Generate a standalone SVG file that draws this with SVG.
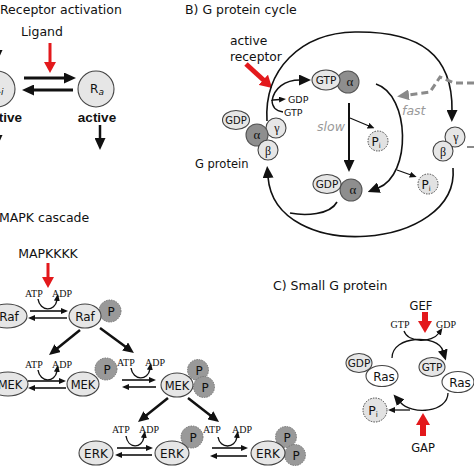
<svg xmlns="http://www.w3.org/2000/svg" width="474" height="474" viewBox="0 0 474 474">
<style>
.h{font-family:"DejaVu Sans",sans-serif;font-size:12.5px;fill:#111}
.t{font-family:"DejaVu Sans",sans-serif;fill:#111}
.s{font-family:"Liberation Serif",serif;fill:#111}
.b{font-family:"Liberation Sans",sans-serif;font-weight:bold;font-size:13.5px;fill:#111}
.g{font-family:"DejaVu Sans",sans-serif;font-style:italic;font-size:12.5px;fill:#999}
.ln{fill:none;stroke:#111}
.lt{fill:#e6e6e6;stroke:#444;stroke-width:1.1}
.wt{fill:#fff;stroke:#444;stroke-width:1.1}
.dk{fill:#8e8e8e;stroke:#555;stroke-width:1.1}
.p{fill:#999;stroke:#777;stroke-width:1;stroke-dasharray:1.5 1}
.pi{fill:#e2e2e2;stroke:#444;stroke-width:1;stroke-dasharray:1.5 1.2}
.red{fill:none;stroke:#e3191c}
</style>
<defs>
<marker id="aL" markerUnits="userSpaceOnUse" markerWidth="12" markerHeight="11" viewBox="0 0 12 11" refX="1" refY="5.5" orient="auto"><path d="M0,0L12,5.5L0,11z" fill="#111"/></marker>
<marker id="aM" markerUnits="userSpaceOnUse" markerWidth="11" markerHeight="10" viewBox="0 0 11 10" refX="1" refY="5" orient="auto"><path d="M0,0L11,5L0,10z" fill="#111"/></marker>
<marker id="aS" markerUnits="userSpaceOnUse" markerWidth="7" markerHeight="6" viewBox="0 0 7 6" refX="1" refY="3" orient="auto"><path d="M0,0L7,3L0,6z" fill="#111"/></marker>
<marker id="aR" markerUnits="userSpaceOnUse" markerWidth="11" markerHeight="12" viewBox="0 0 11 12" refX="1" refY="6" orient="auto"><path d="M0,0L11,6L0,12z" fill="#e3191c"/></marker>
<marker id="aR3" markerUnits="userSpaceOnUse" markerWidth="12" markerHeight="14" viewBox="0 0 12 14" refX="1" refY="7" orient="auto"><path d="M0,0L12,7L0,14z" fill="#e3191c"/></marker>
<marker id="aG" markerUnits="userSpaceOnUse" markerWidth="12" markerHeight="11" viewBox="0 0 12 11" refX="1" refY="5.5" orient="auto"><path d="M0,0L12,5.5L0,11z" fill="#8a8a8a"/></marker>
</defs>

<!-- headings -->
<g id="headings">
<text class="h" x="0" y="14">Receptor activation</text>
<text class="h" x="185" y="14">B) G protein cycle</text>
<text class="h" x="-1" y="222">MAPK cascade</text>
<text class="h" x="273" y="290">C) Small G protein</text>
</g>

<!-- connectors -->
<g id="connectors">
<!-- A -->
<line class="red" x1="50" y1="43" x2="50" y2="63" stroke-width="3" marker-end="url(#aR)"/>
<line class="ln" x1="24" y1="78" x2="65" y2="78" stroke-width="3" marker-end="url(#aL)"/>
<line class="ln" x1="73" y1="90" x2="33" y2="90" stroke-width="3" marker-end="url(#aL)"/>
<line class="ln" x1="100" y1="125" x2="100" y2="139" stroke-width="2.5" marker-end="url(#aL)"/>
<line class="ln" x1="-3" y1="44" x2="-3" y2="51" stroke-width="2.5" marker-end="url(#aL)"/>
<line class="ln" x1="-3" y1="125" x2="-3" y2="136" stroke-width="2.5" marker-end="url(#aL)"/>
<!-- B -->
<line class="red" x1="246" y1="64" x2="264" y2="80.5" stroke-width="5" marker-end="url(#aR3)"/>
<path class="ln" stroke-width="1.6" d="M267,121 C264,70 300,33 355,32 C420,31 453,55 452,111" marker-end="url(#aL)"/>
<path class="ln" stroke-width="1.6" d="M453,168 C460,250 275,265 268,177" marker-end="url(#aL)"/>
<path class="ln" stroke-width="1.6" d="M337,202 C330,215 305,216 290,213"/>
<path class="ln" stroke-width="1.6" d="M272,101 C274,88 285,80 300,80" marker-end="url(#aL)"/>
<path class="ln" stroke-width="1.3" d="M283,112 C276,111 272,107 272,100"/>
<line class="ln" x1="273" y1="100" x2="280" y2="99.5" stroke-width="1.3" marker-end="url(#aS)"/>
<line class="ln" x1="349" y1="103" x2="349" y2="161" stroke-width="2" marker-end="url(#aL)"/>
<line class="ln" x1="350" y1="118" x2="369" y2="126" stroke-width="1.3" marker-end="url(#aS)"/>
<path class="ln" stroke-width="1.6" d="M376,84 C410,95 412,175 378,188" marker-end="url(#aL)"/>
<line class="ln" x1="397" y1="170" x2="411" y2="175" stroke-width="1.3" marker-end="url(#aS)"/>
<path fill="none" stroke="#8a8a8a" stroke-width="3" stroke-dasharray="7 4" d="M474,83 L454,83 L440,77 L430,92 L408,95" marker-end="url(#aG)"/>
<line x1="467" y1="147" x2="474" y2="147" stroke="#8a8a8a" stroke-width="2"/>
<!-- MAPK -->
<line class="red" x1="48" y1="263" x2="48" y2="278" stroke-width="3" marker-end="url(#aR)"/>
<path class="ln" stroke-width="1.4" d="M38,299 C40,312 55,312 57,300" marker-end="url(#aS)"/>
<line class="ln" x1="30" y1="311" x2="62" y2="311" stroke-width="1.6" marker-end="url(#aS)"/>
<line class="ln" x1="67" y1="318" x2="34" y2="318" stroke-width="1.6" marker-end="url(#aS)"/>
<line class="ln" x1="80" y1="330" x2="56.8" y2="348.7" stroke-width="2.5" marker-end="url(#aM)"/>
<line class="ln" x1="100" y1="328" x2="125.9" y2="347.1" stroke-width="2.5" marker-end="url(#aM)"/>
<path class="ln" stroke-width="1.4" d="M38,370 C40,383 55,383 57,371" marker-end="url(#aS)"/>
<line class="ln" x1="28" y1="381" x2="60" y2="381" stroke-width="1.6" marker-end="url(#aS)"/>
<line class="ln" x1="66" y1="388" x2="34" y2="388" stroke-width="1.6" marker-end="url(#aS)"/>
<path class="ln" stroke-width="1.4" d="M131,368 C133,381 148,381 150,369" marker-end="url(#aS)"/>
<line class="ln" x1="122" y1="380" x2="150" y2="380" stroke-width="1.6" marker-end="url(#aS)"/>
<line class="ln" x1="156" y1="387" x2="128" y2="387" stroke-width="1.6" marker-end="url(#aS)"/>
<line class="ln" x1="168" y1="398" x2="145.8" y2="415.8" stroke-width="2.5" marker-end="url(#aM)"/>
<line class="ln" x1="188" y1="398" x2="211.1" y2="415.9" stroke-width="2.5" marker-end="url(#aM)"/>
<path class="ln" stroke-width="1.4" d="M126,436 C128,449 142,449 144,437" marker-end="url(#aS)"/>
<line class="ln" x1="117" y1="448" x2="147" y2="448" stroke-width="1.6" marker-end="url(#aS)"/>
<line class="ln" x1="152" y1="455" x2="121" y2="455" stroke-width="1.6" marker-end="url(#aS)"/>
<path class="ln" stroke-width="1.4" d="M218,437 C220,449 235,449 237,437" marker-end="url(#aS)"/>
<line class="ln" x1="212" y1="448" x2="242" y2="448" stroke-width="1.6" marker-end="url(#aS)"/>
<line class="ln" x1="247" y1="456" x2="216" y2="456" stroke-width="1.6" marker-end="url(#aS)"/>
<!-- C -->
<line class="red" x1="425" y1="312" x2="425" y2="322" stroke-width="6" marker-end="url(#aR3)"/>
<line class="red" x1="423" y1="436" x2="423" y2="424" stroke-width="6" marker-end="url(#aR3)"/>
<path class="ln" stroke-width="1.3" d="M404,331 C408,343 432,343 439,333" marker-end="url(#aS)"/>
<path class="ln" stroke-width="1.3" d="M392,358 C392,335 438,334 443,351" marker-end="url(#aM)"/>
<path class="ln" stroke-width="1.3" d="M448,393 C448,412 412,416 400,402" marker-end="url(#aM)"/>
<line class="ln" x1="410" y1="410" x2="394" y2="410" stroke-width="1.3" marker-end="url(#aS)"/>
</g>

<!-- A nodes -->
<g id="ligand"><text class="t" x="42" y="36" font-size="12.5" text-anchor="middle">Ligand</text></g>
<g id="Ri">
<circle class="lt" cx="-3" cy="89" r="18"/>
<text class="t" x="-2" y="93" font-size="12" text-anchor="middle">R<tspan font-size="9" font-style="italic" dy="2">i</tspan></text>
<text class="b" x="22" y="122" text-anchor="end">inactive</text>
</g>
<g id="Ra">
<circle class="lt" cx="96" cy="89" r="18"/>
<text class="t" x="97" y="93" font-size="12" text-anchor="middle">R<tspan font-size="9" font-style="italic" dy="2">a</tspan></text>
<text class="b" x="97" y="122" text-anchor="middle">active</text>
</g>

<!-- B nodes -->
<g id="active-receptor">
<text class="t" x="230" y="45" font-size="12.3">active</text>
<text class="t" x="230" y="61" font-size="12.3">receptor</text>
</g>
<g id="gdp-gtp-labels">
<text class="t" x="288" y="103" font-size="9.5">GDP</text>
<text class="t" x="284" y="116" font-size="9.5">GTP</text>
</g>
<g id="g-protein">
<circle class="lt" cx="276" cy="128" r="10"/>
<circle class="dk" cx="257" cy="135" r="11"/>
<circle class="lt" cx="268" cy="150" r="10"/>
<ellipse class="lt" cx="236" cy="120" rx="13.5" ry="9.5"/>
<text class="t" x="236" y="124" font-size="10" text-anchor="middle">GDP</text>
<text class="s" x="257" y="139" font-size="13" text-anchor="middle">α</text>
<text class="s" x="277" y="132" font-size="12" text-anchor="middle">γ</text>
<text class="s" x="268" y="155" font-size="12" text-anchor="middle">β</text>
<text class="t" x="195" y="168" font-size="11.5">G protein</text>
</g>
<g id="gtp-alpha">
<circle class="dk" cx="348" cy="82" r="11"/>
<ellipse class="lt" cx="326" cy="80" rx="14" ry="10"/>
<text class="t" x="326" y="84" font-size="10.5" text-anchor="middle">GTP</text>
<text class="s" x="350" y="86" font-size="13" text-anchor="middle">α</text>
</g>
<g id="gdp-alpha">
<circle class="dk" cx="351" cy="190" r="11"/>
<ellipse class="lt" cx="327" cy="184" rx="14" ry="9.5"/>
<text class="t" x="327" y="188" font-size="10.5" text-anchor="middle">GDP</text>
<text class="s" x="353" y="194" font-size="13" text-anchor="middle">α</text>
</g>
<g id="pi1">
<circle class="pi" cx="378" cy="141" r="10"/>
<text class="t" x="376" y="146" font-size="12" text-anchor="middle">P<tspan font-size="7" dy="2">i</tspan></text>
</g>
<g id="pi2">
<circle class="pi" cx="428" cy="184" r="10"/>
<text class="t" x="426" y="189" font-size="12" text-anchor="middle">P<tspan font-size="7" dy="2">i</tspan></text>
</g>
<g id="slow-fast">
<text class="g" x="317" y="131">slow</text>
<text class="g" x="402" y="115">fast</text>
</g>
<g id="beta-gamma">
<circle class="lt" cx="455" cy="137" r="10"/>
<circle class="lt" cx="443" cy="151" r="10"/>
<text class="s" x="456" y="141" font-size="12" text-anchor="middle">γ</text>
<text class="s" x="443" y="156" font-size="12" text-anchor="middle">β</text>
</g>

<!-- MAPK nodes -->
<g id="mapkkkk"><text class="t" x="48" y="258" font-size="12.5" text-anchor="middle">MAPKKKK</text></g>
<g id="atp-adp">
<text class="s" font-size="10" x="25" y="297">ATP</text><text class="s" font-size="10" x="52" y="297">ADP</text>
<text class="s" font-size="10" x="25" y="368">ATP</text><text class="s" font-size="10" x="52" y="368">ADP</text>
<text class="s" font-size="10" x="117" y="366">ATP</text><text class="s" font-size="10" x="145" y="366">ADP</text>
<text class="s" font-size="10" x="112" y="433">ATP</text><text class="s" font-size="10" x="139" y="433">ADP</text>
<text class="s" font-size="10" x="203" y="433">ATP</text><text class="s" font-size="10" x="232" y="433">ADP</text>
</g>
<g id="raf">
<ellipse class="lt" cx="7" cy="316" rx="20" ry="12"/>
<text class="t" x="9" y="320.5" font-size="12" text-anchor="middle">Raf</text>
</g>
<g id="raf-p">
<circle class="p" cx="110" cy="311" r="11"/>
<text class="t" x="111" y="315.5" font-size="12" text-anchor="middle">P</text>
<ellipse class="lt" cx="85" cy="316" rx="16" ry="12"/>
<text class="t" x="85" y="320.5" font-size="12" text-anchor="middle">Raf</text>
</g>
<g id="mek">
<ellipse class="lt" cx="8" cy="384" rx="20" ry="12"/>
<text class="t" x="10" y="388.5" font-size="11.5" text-anchor="middle">MEK</text>
</g>
<g id="mek-p">
<circle class="p" cx="106" cy="369" r="11"/>
<text class="t" x="107" y="373.5" font-size="12" text-anchor="middle">P</text>
<ellipse class="lt" cx="83" cy="384" rx="16" ry="12"/>
<text class="t" x="83" y="388.5" font-size="11.5" text-anchor="middle">MEK</text>
</g>
<g id="mek-pp">
<circle class="p" cx="198" cy="370" r="10.5"/>
<text class="t" x="199" y="374.5" font-size="12" text-anchor="middle">P</text>
<circle class="p" cx="204" cy="387" r="10.5"/>
<text class="t" x="205" y="391.5" font-size="12" text-anchor="middle">P</text>
<ellipse class="lt" cx="177" cy="385" rx="16" ry="12"/>
<text class="t" x="177" y="389.5" font-size="11.5" text-anchor="middle">MEK</text>
</g>
<g id="erk">
<ellipse class="lt" cx="96" cy="453" rx="17" ry="12"/>
<text class="t" x="96" y="457.5" font-size="12" text-anchor="middle">ERK</text>
</g>
<g id="erk-p">
<circle class="p" cx="192" cy="437" r="11"/>
<text class="t" x="193" y="441.5" font-size="12" text-anchor="middle">P</text>
<ellipse class="lt" cx="172" cy="453" rx="17" ry="12"/>
<text class="t" x="172" y="457.5" font-size="12" text-anchor="middle">ERK</text>
</g>
<g id="erk-pp">
<circle class="p" cx="286" cy="437" r="10.5"/>
<text class="t" x="287" y="441.5" font-size="12" text-anchor="middle">P</text>
<circle class="p" cx="295" cy="455" r="10.5"/>
<text class="t" x="296" y="459.5" font-size="12" text-anchor="middle">P</text>
<ellipse class="lt" cx="268" cy="453" rx="17" ry="12"/>
<text class="t" x="268" y="457.5" font-size="12" text-anchor="middle">ERK</text>
</g>

<!-- C nodes -->
<g id="gef"><text class="t" x="421" y="310" font-size="11.5" text-anchor="middle">GEF</text>
<text class="s" font-size="10" x="400" y="328" text-anchor="middle">GTP</text>
<text class="s" font-size="10" x="446" y="328" text-anchor="middle">GDP</text></g>
<g id="gap"><text class="t" x="423" y="452" font-size="11.5" text-anchor="middle">GAP</text></g>
<g id="gdp-ras">
<ellipse class="wt" cx="382" cy="376" rx="16" ry="10.5"/>
<ellipse class="lt" cx="359" cy="363" rx="13" ry="9.5"/>
<text class="t" x="359" y="367" font-size="10.5" text-anchor="middle">GDP</text>
<text class="t" x="384" y="380.5" font-size="12" text-anchor="middle">Ras</text>
</g>
<g id="gtp-ras">
<ellipse class="wt" cx="458" cy="382" rx="16" ry="10.5"/>
<ellipse class="lt" cx="432" cy="367" rx="13" ry="9.5"/>
<text class="t" x="432" y="371" font-size="10.5" text-anchor="middle">GTP</text>
<text class="t" x="460" y="386.5" font-size="12" text-anchor="middle">Ras</text>
</g>
<g id="pi-c">
<circle class="pi" cx="375" cy="410" r="12"/>
<text class="t" x="373" y="415" font-size="12.5" text-anchor="middle">P<tspan font-size="7.5" dy="2">i</tspan></text>
</g>
</svg>
